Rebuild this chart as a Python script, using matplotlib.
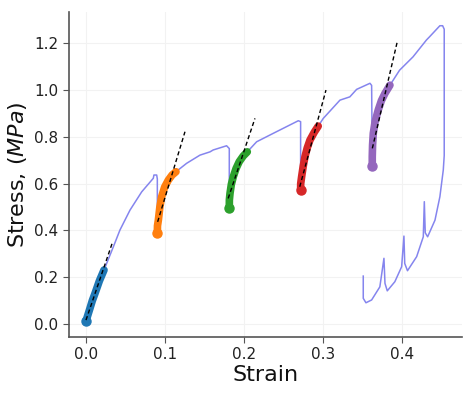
import numpy as np
import matplotlib
matplotlib.use("Agg")
import matplotlib.pyplot as plt

# full test curve (strain, stress in MPa)
strain = [0.0, 0.005, 0.0114, 0.0228, 0.0346, 0.043, 0.0557, 0.0705, 0.0852, 0.086, 0.0895,
          0.0903, 0.0903, 0.0916, 0.0958, 0.1042, 0.1139, 0.1274, 0.1443, 0.157, 0.161, 0.178,
          0.1814, 0.1814, 0.1823, 0.1865, 0.194, 0.2042, 0.216, 0.237, 0.2688, 0.2717,
          0.2717, 0.273, 0.2772, 0.2835, 0.294, 0.3004, 0.3215, 0.334, 0.3426, 0.3595, 0.3616,
          0.3624, 0.3637, 0.370, 0.3785, 0.3848, 0.397, 0.414, 0.431, 0.435, 0.448, 0.4515,
          0.4535, 0.4535, 0.4523, 0.448, 0.4418, 0.4325, 0.4295, 0.4283, 0.427, 0.4186, 0.407,
          0.4035, 0.4025, 0.3996, 0.391, 0.3814, 0.3785, 0.3772, 0.372, 0.3616, 0.3544, 0.351, 0.351]
stress = [0.0, 0.067, 0.131, 0.231, 0.330, 0.402, 0.487, 0.565, 0.623, 0.637, 0.637,
          0.62, 0.388, 0.444, 0.544, 0.615, 0.651, 0.687, 0.722, 0.736, 0.744, 0.762,
          0.75, 0.494, 0.558, 0.630, 0.694, 0.736, 0.779, 0.815, 0.869, 0.865,
          0.573, 0.630, 0.715, 0.786, 0.846, 0.879, 0.957, 0.971, 1.003, 1.029, 1.02,
          0.715, 0.815, 0.915, 0.986, 1.021, 1.085, 1.142, 1.214, 1.228, 1.275, 1.275,
          1.26, 0.72, 0.658, 0.544, 0.444, 0.373, 0.39, 0.523, 0.373, 0.288, 0.228,
          0.259, 0.376, 0.245, 0.181, 0.142, 0.174, 0.281, 0.159, 0.103, 0.091, 0.110, 0.205]

# loading segments picked out for fitting
seg_colors = ["tab:blue", "tab:orange", "tab:green", "tab:red", "tab:purple"]
seg_strain = [[0.0, 0.0025, 0.005, 0.008, 0.0114, 0.017, 0.0228],
              [0.0903, 0.0905, 0.0916, 0.0935, 0.0958, 0.0995, 0.1042, 0.109, 0.1139],
              [0.1814, 0.1815, 0.1823, 0.184, 0.1865, 0.190, 0.194, 0.199, 0.2042],
              [0.2717, 0.2718, 0.273, 0.275, 0.2772, 0.280, 0.2835, 0.289, 0.294],
              [0.3624, 0.3624, 0.3628, 0.3637, 0.366, 0.370, 0.374, 0.3785, 0.3848]]
seg_stress = [[0.013, 0.04, 0.067, 0.10, 0.131, 0.185, 0.231],
              [0.388, 0.42, 0.444, 0.50, 0.544, 0.585, 0.615, 0.637, 0.651],
              [0.494, 0.53, 0.558, 0.597, 0.630, 0.665, 0.694, 0.718, 0.736],
              [0.573, 0.60, 0.630, 0.675, 0.715, 0.752, 0.786, 0.820, 0.846],
              [0.676, 0.715, 0.765, 0.815, 0.865, 0.915, 0.955, 0.986, 1.021]]

# linear fits (dashed), start/end points
fit_x0 = [0.0, 0.0907, 0.180, 0.2706, 0.3625]
fit_x1 = [0.0338, 0.1253, 0.2139, 0.3038, 0.394]
fit_y0 = [0.017, 0.437, 0.537, 0.587, 0.751]
fit_y1 = [0.352, 0.822, 0.879, 1.0, 1.206]

plt.rcParams['font.family'] = 'DejaVu Sans'
fig = plt.figure(figsize=(4.74, 3.95), dpi=100)
ax = fig.add_axes([0.1456, 0.1476, 0.8284, 0.8228])

ax.plot(strain, stress, color="#8585ee", lw=1.1, zorder=2)
for i in range(len(seg_colors)):
    xs, ys = seg_strain[i], seg_stress[i]
    ax.plot(xs, ys, color=seg_colors[i], lw=5.5, solid_capstyle="round",
            solid_joinstyle="round", zorder=3)
    ax.plot(xs[0], ys[0], "o", color=seg_colors[i], ms=6.5, zorder=3)
    ax.plot([fit_x0[i], fit_x1[i]], [fit_y0[i], fit_y1[i]], color="black",
            lw=1.0, dashes=(3, 2), zorder=4)

ax.set_xlim(-0.0215, 0.4756)
ax.set_ylim(-0.054, 1.335)
ax.set_xticks([0.0, 0.1, 0.2, 0.3, 0.4])
ax.set_yticks([0.0, 0.2, 0.4, 0.6, 0.8, 1.0, 1.2])
ax.grid(True, color="#f2f2f2", lw=0.8, zorder=0)
ax.set_axisbelow(True)
for s in ["top", "right"]:
    ax.spines[s].set_visible(False)
for s in ["left", "bottom"]:
    ax.spines[s].set_color("#555555")
    ax.spines[s].set_linewidth(1.2)
ax.tick_params(colors="#555555", labelcolor="#222222", labelsize=11, length=4)
ax.set_xlabel("Strain", fontsize=16, color="#111111", labelpad=2)
ax.set_ylabel("Stress, $(MPa)$", fontsize=16, color="#111111", labelpad=4)

fig.savefig("out.png", dpi=100)
